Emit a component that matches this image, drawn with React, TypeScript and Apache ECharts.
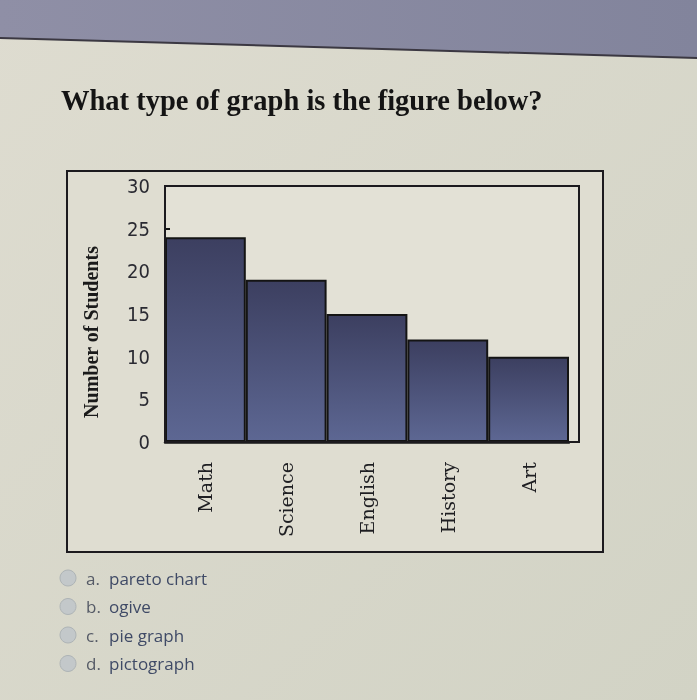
import React, { useEffect, useRef } from "react";
import * as echarts from "echarts";

const subjects = ["Math", "Science", "English", "History", "Art"];
const students = [24, 19, 15, 12, 10];
const choices = [
  { key: "a.", text: "pareto chart" },
  { key: "b.", text: "ogive" },
  { key: "c.", text: "pie graph" },
  { key: "d.", text: "pictograph" },
];
const question = "What type of graph is the figure below?";
const yTitle = "Number of Students";

const App: React.FC = () => {
  const chartRef = useRef<HTMLDivElement>(null);

  useEffect(() => {
    if (!chartRef.current) return;
    const chart = echarts.init(chartRef.current, undefined, { renderer: "svg" });

    // answer choices with their radio circles
    const choiceGraphics: any[] = [];
    choices.forEach((c, i) => {
      const y = 578 + i * 28.5;
      choiceGraphics.push({
        type: "circle",
        shape: { cx: 68, cy: y, r: 8 },
        style: { fill: "#c3c8ca", stroke: "#aeb4b6", lineWidth: 1 },
      });
      choiceGraphics.push({
        type: "text",
        x: 86,
        y,
        style: {
          text: c.key,
          fill: "#555a66",
          font: "17px 'Open Sans'",
          verticalAlign: "middle",
        },
      });
      choiceGraphics.push({
        type: "text",
        x: 109,
        y,
        style: {
          text: c.text,
          fill: "#3f4a66",
          font: "17px 'Open Sans'",
          verticalAlign: "middle",
        },
      });
    });

    const option = {
      animation: false,
      backgroundColor: "transparent",
      graphic: [
        {
          type: "rect",
          z: -10,
          shape: { x: 0, y: 0, width: 697, height: 700 },
          style: {
            fill: new echarts.graphic.LinearGradient(0, 0, 1, 1, [
              { offset: 0, color: "#dedcd0" },
              { offset: 1, color: "#d2d3c5" },
            ]),
          },
        },
        {
          type: "polygon",
          z: -9,
          shape: { points: [[0, 0], [697, 0], [697, 58], [0, 38]] },
          style: {
            fill: new echarts.graphic.LinearGradient(0, 0, 1, 0, [
              { offset: 0, color: "#8f8fa6" },
              { offset: 1, color: "#82849c" },
            ]),
          },
        },
        {
          type: "line",
          z: -8,
          shape: { x1: 0, y1: 38, x2: 697, y2: 58 },
          style: { stroke: "#3b3842", lineWidth: 2 },
        },
        {
          type: "text",
          x: 61,
          y: 100,
          style: {
            text: question,
            fill: "#141414",
            font: "bold 28.5px 'Liberation Serif'",
            verticalAlign: "middle",
          },
        },
        // outer figure frame
        {
          type: "rect",
          z: -7,
          shape: { x: 67, y: 171, width: 536, height: 381 },
          style: { fill: "#dfddd1", stroke: "#1c1a1e", lineWidth: 2 },
        },
        // plot area
        {
          type: "rect",
          z: -6,
          shape: { x: 165, y: 186, width: 414, height: 256 },
          style: { fill: "#e3e1d6" },
        },
        {
          type: "rect",
          z: 10,
          shape: { x: 165, y: 186, width: 414, height: 256 },
          style: { fill: "none", stroke: "#1c1a1e", lineWidth: 2 },
        },
        {
          type: "text",
          x: 91,
          y: 332,
          rotation: Math.PI / 2,
          style: {
            text: yTitle,
            fill: "#1a1a1a",
            font: "bold 20px 'Liberation Serif'",
            align: "center",
            verticalAlign: "middle",
          },
        },
        ...choiceGraphics,
      ],
      grid: { left: 165, top: 186, width: 404, height: 256 },
      xAxis: {
        type: "category",
        data: subjects,
        axisLine: { lineStyle: { color: "#141414", width: 2.5 } },
        axisTick: { show: false },
        axisLabel: {
          rotate: 90,
          margin: 20,
          color: "#1e1e22",
          fontFamily: "DejaVu Serif",
          fontSize: 19,
        },
      },
      yAxis: {
        type: "value",
        min: 0,
        max: 30,
        interval: 5,
        splitLine: { show: false },
        axisLine: { show: true, lineStyle: { color: "#141414", width: 2 } },
        axisTick: {
          show: true,
          inside: true,
          length: 5,
          lineStyle: { color: "#141414", width: 2 },
        },
        axisLabel: {
          margin: 15,
          color: "#2a2a32",
          fontFamily: "DejaVu Sans Condensed, DejaVu Sans",
          fontSize: 20,
        },
      },
      series: [
        {
          type: "bar",
          data: students,
          barCategoryGap: "0%",
          itemStyle: {
            color: new echarts.graphic.LinearGradient(0, 0, 0, 1, [
              { offset: 0, color: "#3c3f60" },
              { offset: 1, color: "#5d6793" },
            ]),
            borderColor: "#141414",
            borderWidth: 2,
          },
        },
      ],
    };

    chart.setOption(option);
    return () => chart.dispose();
  }, []);

  return (
    <div
      ref={chartRef}
      style={{ position: "fixed", left: 0, top: 0, width: 697, height: 700 }}
    />
  );
};

export default App;
